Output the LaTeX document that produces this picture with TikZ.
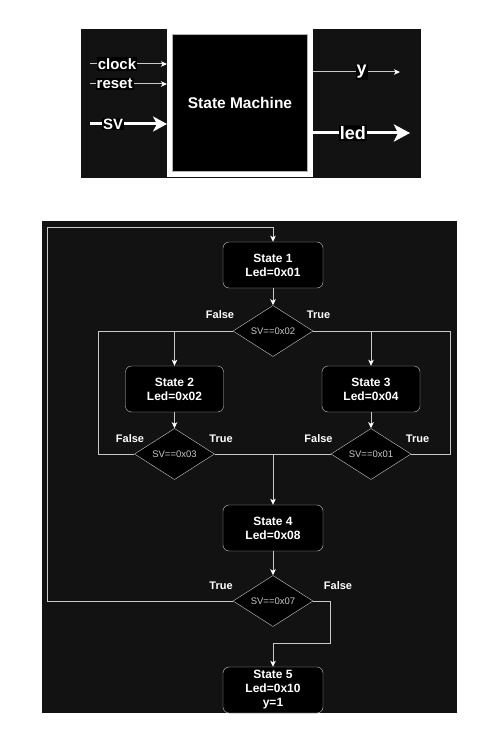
\documentclass[tikz,border=0pt]{standalone}
\usepackage{fontspec}
\setmainfont{Liberation Sans}
\usetikzlibrary{shapes.geometric}
\usetikzlibrary{arrows.meta}
\usetikzlibrary{positioning}
\definecolor{panelbg}{RGB}{18,18,18}
\definecolor{wiregray}{RGB}{200,200,200}
\tikzstyle{stateblock} = [rectangle, rounded corners=6pt, minimum width=100pt, minimum height=46pt,
text centered, align=center, draw=wiregray, fill=black, text=white, inner sep=0pt,
font=\fontsize{12}{14}\selectfont\bfseries]
\tikzstyle{decisionblock} = [diamond, minimum width=80pt, minimum height=38pt, inner sep=0pt,
text centered, draw=wiregray, fill=black, text=wiregray, font=\fontsize{9.5}{11}\selectfont]
\tikzstyle{connector} = [draw=wiregray, line width=1pt]
\tikzstyle{arrow} = [connector, -{Stealth[length=6pt,width=5.5pt,inset=1.5pt,color=white]}]
\tikzstyle{branchlabel} = [text=white, inner sep=0pt, font=\fontsize{11}{13}\selectfont\bfseries]
\tikzstyle{portlabel} = [fill=black, text=white, inner sep=1pt, font=\fontsize{15}{17}\selectfont\bfseries]

\begin{document}
\begin{tikzpicture}[x=1pt, y=-1pt]
  \useasboundingbox (0,0) rectangle (484,735);
  % block view of the machine
  \fill[panelbg] (81,29) rectangle (421,178);
  \node (sm) [rectangle, minimum width=141pt, minimum height=143pt, draw=white, line width=5pt,
  fill=black, text=white, font=\fontsize{15.5}{18}\selectfont\bfseries] at (240,103) {State Machine};
  \draw[gray!60, line width=0.8pt] (172.5,34.5) rectangle (307.5,171.5);
  \coordinate (clkin) at (90,64);
  \coordinate (rstin) at (90,84);
  \coordinate (svin) at (90,124);
  \coordinate (yout) at (400,72);
  \coordinate (ledout) at (410,133);
  \draw [arrow] (clkin) -- node[portlabel, pos=0.35] (clklbl) {clock} (clkin -| sm.west);
  \draw [arrow] (rstin) -- node[portlabel, pos=0.32] (rstlbl) {reset} (rstin -| sm.west);
  \draw [draw=white, line width=3pt, -{Stealth[length=14pt,width=15pt,inset=4pt]}]
  (svin) -- node[portlabel, pos=0.3] (svlbl) {SV} (svin -| sm.west);
  \draw [arrow] (yout -| sm.east) -- node[portlabel, pos=0.56, font=\fontsize{18}{20}\selectfont\bfseries] (ylbl) {y} (yout);
  \draw [draw=white, line width=3pt, -{Stealth[length=16pt,width=17pt,inset=4pt]}]
  (ledout -| sm.east) -- node[portlabel, pos=0.41, font=\fontsize{18}{20}\selectfont\bfseries] (ledlbl) {led} (ledout);

  % flow chart of the states
  \fill[panelbg] (42,221) rectangle (457,713);
  \node (s1) [stateblock] at (273,265) {State 1\\Led=0x01};
  \node (d1) [decisionblock] at (273,331) {SV==0x02};
  \node (s2) [stateblock, minimum width=98pt] at (174.5,389) {State 2\\Led=0x02};
  \node (s3) [stateblock, minimum width=98pt] at (371,389) {State 3\\Led=0x04};
  \node (d2) [decisionblock] at (174.5,454) {SV==0x03};
  \node (d3) [decisionblock] at (371,454) {SV==0x01};
  \node (s4) [stateblock] at (273,528) {State 4\\Led=0x08};
  \node (d4) [decisionblock] at (273,601) {SV==0x07};
  \node (s5) [stateblock] at (273,690) {State 5\\Led=0x10\\y=1};
  \coordinate (loop) at (47,227);
  \coordinate (merge) at (273,454);
  \coordinate (bend) at (330,643);
  \draw [arrow] (s1) -- (d1);
  \draw [arrow] (d1.west) -| (s2.north);
  \draw [arrow] (d1.east) -| (s3.north);
  \draw [arrow] (s2) -- (d2);
  \draw [arrow] (s3) -- (d3);
  \draw [connector] (d2.west) -- ++(-36,0) |- (d1.west); % back up to state 2
  \draw [connector] (d3.east) -- ++(39,0) |- (d1.east); % back up to state 3
  \draw [connector] (d2.east) -- (merge);
  \draw [connector] (d3.west) -- (merge);
  \draw [arrow] (merge) -- (s4);
  \draw [arrow] (s4) -- (d4);
  \draw [arrow] (d4.west) -| (loop) -| (s1.north);
  \draw [arrow] (d4.east) -| (bend) -| (s5.north);
  \node (f1) [branchlabel] at (220,315) {False};
  \node (t1) [branchlabel] at (318.5,315) {True};
  \node (f2) [branchlabel] at (130,439) {False};
  \node (t2) [branchlabel] at (221,439) {True};
  \node (f3) [branchlabel] at (318.5,439) {False};
  \node (t3) [branchlabel] at (417.5,439) {True};
  \node (t4) [branchlabel] at (221,586) {True};
  \node (f4) [branchlabel] at (338,586) {False};
\end{tikzpicture}
\end{document}
